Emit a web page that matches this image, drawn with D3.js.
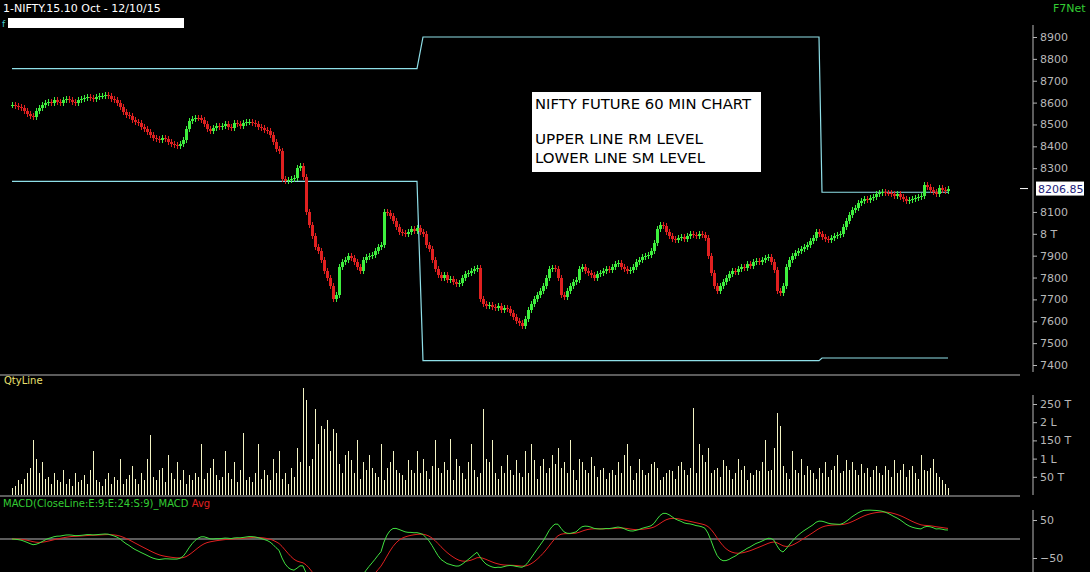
<!DOCTYPE html>
<html><head><meta charset="utf-8">
<script src="https://cdn.jsdelivr.net/npm/d3@7"></script>
<style>body{margin:0;background:#000;overflow:hidden}svg{display:block}text{font-family:Verdana,"DejaVu Sans",sans-serif}</style>
</head><body><svg id="chart" width="1090" height="572"></svg>
<script>
// hourly closes, NIFTY Oct futures
var closes = [
8590,8585,8580,8575,8560,8550,8540,8535,8560,8575,
8590,8600,8605,8600,8610,8605,8600,8612,8615,8610,
8605,8600,8610,8615,8620,8625,8620,8615,8625,8630,
8632,8635,8630,8615,8610,8600,8580,8555,8545,8540,
8520,8510,8505,8490,8480,8465,8450,8440,8435,8430,
8440,8435,8420,8410,8405,8400,8410,8430,8480,8515,
8525,8530,8528,8520,8500,8480,8470,8485,8495,8490,
8495,8500,8490,8485,8505,8500,8495,8505,8510,8512,
8505,8500,8490,8485,8475,8470,8450,8420,8390,8380,
8250,8240,8245,8250,8255,8300,8310,8260,8100,8040,
7990,7940,7920,7880,7830,7800,7760,7700,7720,7850,
7870,7880,7900,7890,7870,7850,7830,7880,7895,7900,
7905,7920,7940,7950,8100,8095,8080,8060,8030,8010,
8005,8000,8010,8020,8015,8025,8010,8000,7950,7930,
7880,7840,7810,7800,7810,7790,7795,7780,7770,7775,
7800,7815,7820,7830,7840,7845,7700,7680,7670,7675,
7665,7660,7670,7650,7660,7655,7640,7620,7600,7590,
7580,7610,7650,7680,7700,7720,7740,7760,7800,7840,
7845,7840,7800,7720,7710,7740,7760,7780,7790,7840,
7850,7830,7820,7810,7800,7815,7820,7830,7840,7835,
7850,7860,7865,7850,7840,7830,7835,7850,7870,7880,
7895,7900,7905,7920,7960,8020,8040,8035,8010,7990,
7975,7970,7980,7985,7975,7990,8000,7995,7990,8000,
7995,7980,7900,7820,7760,7740,7760,7780,7800,7815,
7830,7825,7840,7850,7845,7860,7855,7870,7875,7870,
7880,7890,7895,7870,7835,7740,7730,7760,7850,7880,
7900,7910,7920,7930,7940,7950,7965,7980,8010,8000,
7985,7975,7970,7980,7990,7995,8000,8030,8060,8085,
8110,8120,8140,8150,8160,8155,8165,8170,8180,8185,
8190,8188,8185,8180,8175,8180,8170,8160,8150,8155,
8160,8165,8170,8175,8225,8215,8200,8190,8180,8210,
8200,8195,8207];
// traded quantity, thousands
var volumes = [
20,25,40,30,45,60,75,150,100,60,
90,45,50,30,60,40,35,70,30,45,
25,60,35,40,55,30,70,120,40,35,
25,45,60,30,50,40,100,30,45,55,
80,45,30,60,40,100,165,50,40,70,
75,35,110,60,45,90,40,70,30,55,
40,60,50,140,45,60,75,100,55,40,
50,120,60,45,90,35,70,170,40,50,
35,60,140,45,70,55,40,100,60,120,
45,60,30,75,50,130,90,295,260,80,
100,235,140,190,180,205,120,180,170,85,
60,110,120,95,60,150,45,90,70,110,
75,60,50,140,40,75,90,120,70,60,
55,40,95,70,60,120,60,100,65,45,
80,150,75,60,90,70,155,40,100,80,
60,45,90,140,70,50,60,235,100,90,
150,60,45,80,60,110,70,55,95,60,
50,120,60,140,95,45,80,100,60,75,
110,85,130,75,90,60,150,70,40,100,
90,70,60,105,80,50,70,75,45,60,
70,55,90,60,110,140,80,40,60,100,
70,55,60,85,90,75,40,50,60,70,
65,45,80,90,70,55,75,240,60,140,
110,90,130,60,70,75,50,95,80,70,
45,60,100,70,80,40,60,55,70,65,
90,150,65,70,130,225,190,80,60,45,
120,70,60,100,55,80,70,60,45,75,
60,90,50,70,80,110,60,65,95,70,
90,70,55,85,60,75,50,70,80,60,
55,80,70,50,95,60,70,85,50,70,
80,60,45,110,70,65,75,100,60,50,
40,30,20];
var rmLevels = [{from: 0, to: 135, v: 8755}, {from: 137, to: 269, v: 8900}, {from: 270, to: 312, v: 8190}];
var smLevels = [{from: 0, to: 135, v: 8240}, {from: 137, to: 269, v: 7420}, {from: 270, to: 312, v: 7432}];
var priceTicks = [8900,8800,8700,8600,8500,8400,8300,8100,8000,7900,7800,7700,7600,7500,7400];
var volTicks = [250,200,150,100,50];
var macdTicks = [50,-50];
var lastPrice = 8206.85;

var svg = d3.select("#chart");
var n = closes.length;
var x = d3.scaleLinear().domain([0, n - 1]).range([12, 948]);
var y = d3.scaleLinear().domain([7400, 8900]).range([365, 37]);
var yv = d3.scaleLinear().domain([0, 250]).range([495, 404]);
var ym = d3.scaleLinear().domain([-50, 50]).range([558, 520]);
var grey = "#b8b8b8";
function px(i) { return Math.round(x(i)) + 0.5; }

// header
svg.append("text").attr("x", 3).attr("y", 12).attr("fill", "#fff").attr("font-size", 11).text("1-NIFTY.15.10 Oct - 12/10/15");
svg.append("rect").attr("x", 8).attr("y", 18).attr("width", 176).attr("height", 10).attr("fill", "#fff");
svg.append("text").attr("x", 2).attr("y", 27).attr("fill", "#4cc").attr("font-size", 9).text("f");
svg.append("text").attr("x", 1053).attr("y", 12).attr("fill", "#3c3").attr("font-size", 11).text("F7Net");

// price axis
svg.append("line").attr("x1", 1033).attr("x2", 1033).attr("y1", 25).attr("y2", 372).attr("stroke", grey);
var pa = svg.append("g").attr("transform", "translate(1033,0)").call(d3.axisRight(y).tickValues(priceTicks).tickSize(4).tickFormat(function(d){ return d == 8000 ? "8 T" : d; }));
pa.select(".domain").remove();
pa.selectAll("line").attr("stroke", grey);
pa.selectAll("text").attr("fill", grey).attr("font-size", 11).attr("font-family", "Verdana,DejaVu Sans,sans-serif");
svg.append("line").attr("x1", 1020).attr("x2", 1028).attr("y1", y(lastPrice)).attr("y2", y(lastPrice)).attr("stroke", "#fff");
svg.append("rect").attr("x", 1036).attr("y", y(lastPrice) - 7).attr("width", 48).attr("height", 14).attr("fill", "#fff");
svg.append("text").attr("x", 1038).attr("y", y(lastPrice) + 4).attr("fill", "#22227a").attr("font-size", 11).text(lastPrice.toFixed(2));

// RM / SM step lines
function stepLine(levels) {
  var pts = [];
  levels.forEach(function(l){ pts.push([x(l.from), y(l.v)]); pts.push([x(l.to), y(l.v)]); });
  svg.append("path").attr("d", d3.line()(pts)).attr("fill", "none").attr("stroke", "#8fdfe8").attr("stroke-width", 1.2);
}
stepLine(rmLevels);
stepLine(smLevels);

// candles
var g = svg.append("g").attr("shape-rendering", "crispEdges");
closes.forEach(function(c, i){
  var o = i ? closes[i - 1] : c;
  var col = c >= o ? "#3ef03e" : "#e02020";
  var top = y(Math.max(o, c)), bot = y(Math.min(o, c));
  g.append("line").attr("x1", px(i)).attr("x2", px(i)).attr("y1", top - 3).attr("y2", bot + 3).attr("stroke", col).attr("stroke-width", 1);
  g.append("rect").attr("x", px(i) - 1.5).attr("y", top).attr("width", 3).attr("height", Math.max(1, bot - top)).attr("fill", col);
});

// note box
svg.append("rect").attr("x", 532).attr("y", 92).attr("width", 229).attr("height", 80).attr("fill", "#fff");
[["NIFTY FUTURE 60 MIN CHART", 109, 216], ["UPPER LINE RM LEVEL", 144, 168], ["LOWER LINE SM LEVEL", 163, 170]].forEach(function(t){
  svg.append("text").attr("x", 535).attr("y", t[1]).attr("fill", "#000").attr("font-size", 14)
    .attr("font-family", "Arial,Liberation Sans,sans-serif").attr("textLength", t[2]).attr("lengthAdjust", "spacingAndGlyphs").text(t[0]);
});

// panel separators
svg.append("line").attr("x1", 0).attr("x2", 1020).attr("y1", 375).attr("y2", 375).attr("stroke", grey);
svg.append("line").attr("x1", 0).attr("x2", 1020).attr("y1", 496).attr("y2", 496).attr("stroke", grey);
svg.append("text").attr("x", 4).attr("y", 384).attr("fill", "#e8e070").attr("font-size", 10).text("QtyLine");

// volume
svg.append("g").attr("shape-rendering", "crispEdges").selectAll("line").data(volumes).join("line")
  .attr("x1", function(d, i){ return px(i); }).attr("x2", function(d, i){ return px(i); })
  .attr("y1", yv(0)).attr("y2", function(d){ return yv(d); }).attr("stroke", "#f4f4c4").attr("stroke-width", 1);
svg.append("line").attr("x1", 1033).attr("x2", 1033).attr("y1", 395).attr("y2", 495).attr("stroke", grey);
var va = svg.append("g").attr("transform", "translate(1033,0)").call(d3.axisRight(yv).tickValues(volTicks).tickSize(4).tickFormat(function(d){ return d == 200 ? "2 L" : d == 100 ? "1 L" : d + " T"; }));
va.select(".domain").remove();
va.selectAll("line").attr("stroke", grey);
va.selectAll("text").attr("fill", grey).attr("font-size", 11).attr("font-family", "Verdana,DejaVu Sans,sans-serif");

// MACD (E9, E24, signal 9)
function ema(arr, p) { var k = 2 / (p + 1), out = [], e = arr[0]; arr.forEach(function(v){ e = v * k + e * (1 - k); out.push(e); }); return out; }
var e9 = ema(closes, 9), e24 = ema(closes, 24);
var macd = closes.map(function(d, i){ return e9[i] - e24[i]; });
var sig = ema(macd, 9);
var mg = svg.append("g");
mg.append("defs").append("clipPath").attr("id", "mc").append("rect").attr("x", 0).attr("y", 505).attr("width", 1020).attr("height", 67);
mg.append("line").attr("x1", 0).attr("x2", 1020).attr("y1", ym(0)).attr("y2", ym(0)).attr("stroke", grey);
var ml = d3.line().x(function(d, i){ return x(i); }).y(function(d){ return ym(d); });
mg.append("path").attr("d", ml(sig)).attr("fill", "none").attr("stroke", "#e02020").attr("clip-path", "url(#mc)");
mg.append("path").attr("d", ml(macd)).attr("fill", "none").attr("stroke", "#40e040").attr("clip-path", "url(#mc)");
var lab = svg.append("text").attr("x", 3).attr("y", 507).attr("font-size", 10);
lab.append("tspan").attr("fill", "#3c3").text("MACD(CloseLine:E:9:E:24:S:9)_MACD ");
lab.append("tspan").attr("fill", "#e02020").text("Avg");
svg.append("line").attr("x1", 1033).attr("x2", 1033).attr("y1", 510).attr("y2", 572).attr("stroke", grey);
var ma = svg.append("g").attr("transform", "translate(1033,0)").call(d3.axisRight(ym).tickValues(macdTicks).tickSize(4));
ma.select(".domain").remove();
ma.selectAll("line").attr("stroke", grey);
ma.selectAll("text").attr("fill", grey).attr("font-size", 11).attr("font-family", "Verdana,DejaVu Sans,sans-serif");
</script></body></html>
